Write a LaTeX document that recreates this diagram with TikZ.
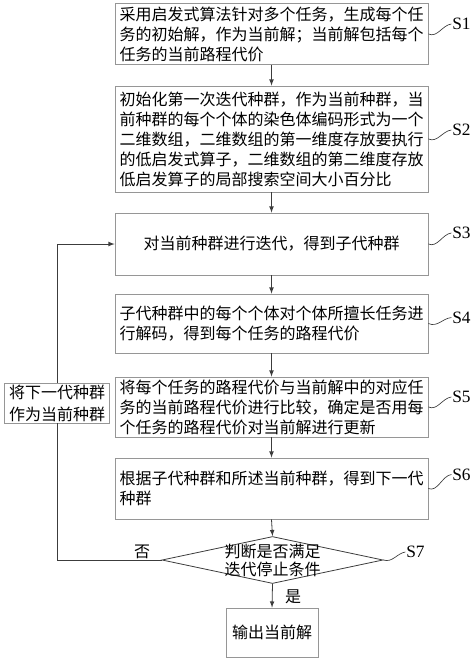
\documentclass[tikz,border=0pt]{standalone}
\usepackage{fontspec}
\setmainfont{Noto Sans CJK SC}
\newfontfamily\stepfont{Liberation Serif}
\usetikzlibrary{calc, arrows, shapes}
\definecolor{boxgray}{RGB}{150,150,150}
\definecolor{linegray}{RGB}{60,60,60}
\tikzstyle{stepbox} = [draw=boxgray, line width=0.6pt, align=left, text width=228pt, inner xsep=3.375pt, inner ysep=0pt, font=\fontsize{12}{15}\selectfont]
\tikzstyle{endbox} = [draw=boxgray, line width=0.6pt, minimum width=69pt, minimum height=36.75pt, inner sep=0pt, font=\fontsize{12}{15}\selectfont]
\tikzstyle{loopbox} = [draw=boxgray, line width=0.6pt, fill=white, align=center, minimum width=78.75pt, minimum height=30pt, inner sep=0pt, font=\fontsize{12}{16.5}\selectfont]
\tikzstyle{decision} = [draw=linegray, line width=0.6pt, shape=diamond, minimum width=165.75pt, minimum height=35.25pt, inner sep=0pt]
\tikzstyle{line} = [draw=linegray, line width=0.6pt]
\tikzstyle{flow} = [line, -latex]
\tikzstyle{leader} = [draw=linegray, line width=0.5pt]
\tikzstyle{steplabel} = [anchor=west, inner sep=0.5pt, font=\stepfont\fontsize{13}{13}\selectfont]
\tikzstyle{tag} = [inner sep=1pt, font=\fontsize{12}{13.5}\selectfont]

\begin{document}
\begin{tikzpicture}[x=0.75pt, y=-0.75pt]
	\useasboundingbox (0,0) rectangle (474,661);

	\node[stepbox, minimum height=45.75pt] (b1) at (271.5,34) {采用启发式算法针对多个任务，生成每个任\\务的初始解，作为当前解；当前解包括每个\\任务的当前路程代价};
	\node[stepbox, minimum height=79.5pt] (b2) at (271.5,139) {初始化第一次迭代种群，作为当前种群，当\\前种群的每个个体的染色体编码形式为一个\\二维数组，二维数组的第一维度存放要执行\\的低启发式算子，二维数组的第二维度存放\\低启发算子的局部搜索空间大小百分比};
	\node[stepbox, align=center, minimum height=46.5pt] (b3) at (271.5,244) {对当前种群进行迭代，得到子代种群};
	\node[stepbox, minimum height=44.25pt] (b4) at (271.5,323.5) {子代种群中的每个个体对个体所擅长任务进\\行解码，得到每个任务的路程代价};
	\node[stepbox, minimum height=45pt] (b5) at (271.5,407) {将每个任务的路程代价与当前解中的对应任\\务的当前路程代价进行比较，确定是否用每\\个任务的路程代价对当前解进行更新};
	\node[stepbox, minimum height=45.75pt] (b6) at (271.5,488.5) {根据子代种群和所述当前种群，得到下一代\\种群};
	\node[decision] (d) at (272.5,560) {};
	\node[tag, align=center] (dtext) at (d) {判断是否满足\\迭代停止条件};
	\node[endbox] (out) at (272,632.5) {输出当前解};
	\node[loopbox] (fb) at (57,403) {将下一代种群\\作为当前种群};

	\node[tag] (no) at (142,552) {否};
	\node[tag] (yes) at (293,597) {是};

	\draw[flow] (b1.south) -- (b2.north);
	\draw[flow] (b2.south) -- (b3.north);
	\draw[flow] (b3.south) -- (b4.north);
	\draw[flow] (b4.south) -- (b5.north);
	\draw[flow] (b5.south) -- (b6.north);
	\draw[flow] (b6.south) -- (d.north);
	\draw[flow] (d.south) -- (out.north);
	\draw[line] (d.west) -- (d.west -| fb.south) -- (fb.south);
	\draw[flow] (fb.north) -- (fb.north |- b3.west) -- (b3.west);

	\foreach \i/\dy in {1/-10, 2/-9, 3/-11, 4/-6, 5/-10, 6/-14}
	{
		\node[steplabel] (s\i) at ([shift={(23,\dy)}]b\i.east) {S\i};
		\draw[leader] (b\i.east) .. controls +(9,4) and +(-9,1) .. (s\i.west);
	}
	\node[steplabel] (s7) at ([shift={(22,-8)}]d.east) {S7};
	\draw[leader] (d.east) .. controls +(9,3) and +(-8,1) .. (s7.west);
\end{tikzpicture}
\end{document}
